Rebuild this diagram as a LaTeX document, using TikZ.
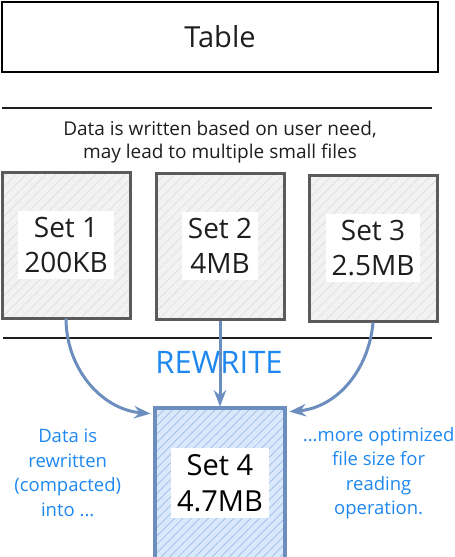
\documentclass[tikz,border=0pt]{standalone}
\usepackage{fontspec}
\setmainfont{Open Sans}
\usepackage{xcolor}
\usetikzlibrary{arrows.meta,positioning,patterns.meta}
\definecolor{inkdark}{HTML}{1E1E1E}
\definecolor{boxgray}{HTML}{5A5A5A}
\definecolor{hatchgray}{HTML}{DDDDDD}
\definecolor{arrowblue}{HTML}{6C8EBF}
\definecolor{hatchblue}{HTML}{9DBCE8}
\definecolor{fillblue}{HTML}{DAE8FC}
\definecolor{noteblue}{HTML}{1E88F0}

\begin{document}
\begin{tikzpicture}[
  x=1pt, y=-1pt,
  >=Stealth,
  setbox/.style={rectangle, draw=boxgray, line width=3pt, minimum width=128pt, minimum height=146pt,
    preaction={fill=white!95!black}, pattern={Lines[angle=45,distance=7pt,line width=0.6pt]}, pattern color=hatchgray},
  newbox/.style={rectangle, draw=arrowblue, line width=3.5pt, minimum width=130pt, minimum height=152pt,
    preaction={fill=fillblue}, pattern={Lines[angle=45,distance=6pt,line width=0.7pt]}, pattern color=hatchblue},
  setlabel/.style={fill=white, align=center, font=\fontsize{28}{35}\selectfont, text=inkdark, inner sep=6pt},
  note/.style={align=center, text=noteblue, font=\fontsize{18.5}{24.5}\selectfont},
  rule/.style={draw=inkdark, line width=1.3pt},
  flow/.style={->, draw=arrowblue, line width=3pt}
]
  \useasboundingbox (0,0) rectangle (455,557);

  % table header
  \node[rectangle, draw=black, line width=2.5pt, minimum width=436pt, minimum height=70pt,
        font=\fontsize{29}{34}\selectfont, text=inkdark] (table) at (220,37) {Table};
  \coordinate (r1a) at (2,108);
  \coordinate (r1b) at (432,108);
  \draw[rule] (r1a) -- (r1b);
  \node[align=center, text=inkdark, font=\fontsize{19}{23}\selectfont] (intro) at (220,142)
    {Data is written based on user need,\\may lead to multiple small files};

  % small files
  \node[setbox] (s1) at (66,245) {};
  \node[setbox] (s2) at (220,246) {};
  \node[setbox] (s3) at (373,248) {};
  \node[setlabel] (s1txt) at (s1) {Set 1\\200KB};
  \node[setlabel] (s2txt) at (s2) {Set 2\\4MB};
  \node[setlabel] (s3txt) at (s3) {Set 3\\2.5MB};

  \coordinate (r2a) at (3,338);
  \coordinate (r2b) at (432,338);
  \draw[rule] (r2a) -- (r2b);
  \node[text=noteblue, font=\fontsize{31}{35}\selectfont] (rewrite) at (219,362) {REWRITE};

  % compacted file
  \node[newbox] (s4) at (220,484) {};
  \node[setlabel, text=black, font=\fontsize{29}{36}\selectfont] (s4txt) at (220,483) {Set 4\\4.7MB};

  \draw[flow] (s1.south) to[out=-90, in=175] ([xshift=-4pt, yshift=-6pt]s4.north west);
  \draw[flow] (s2.south) -- ([yshift=1pt]s4.north);
  \draw[flow] (s3.south) to[out=-95, in=5] ([xshift=4pt, yshift=-4pt]s4.north east);

  % side notes
  \node[note, left=30pt of s4, yshift=11pt] (leftnote) {Data is\\rewritten\\(compacted)\\into ...};
  \node[note, right=14pt of s4, yshift=11pt] (rightnote) {...more optimized\\file size for\\reading\\operation.};
\end{tikzpicture}
\end{document}
